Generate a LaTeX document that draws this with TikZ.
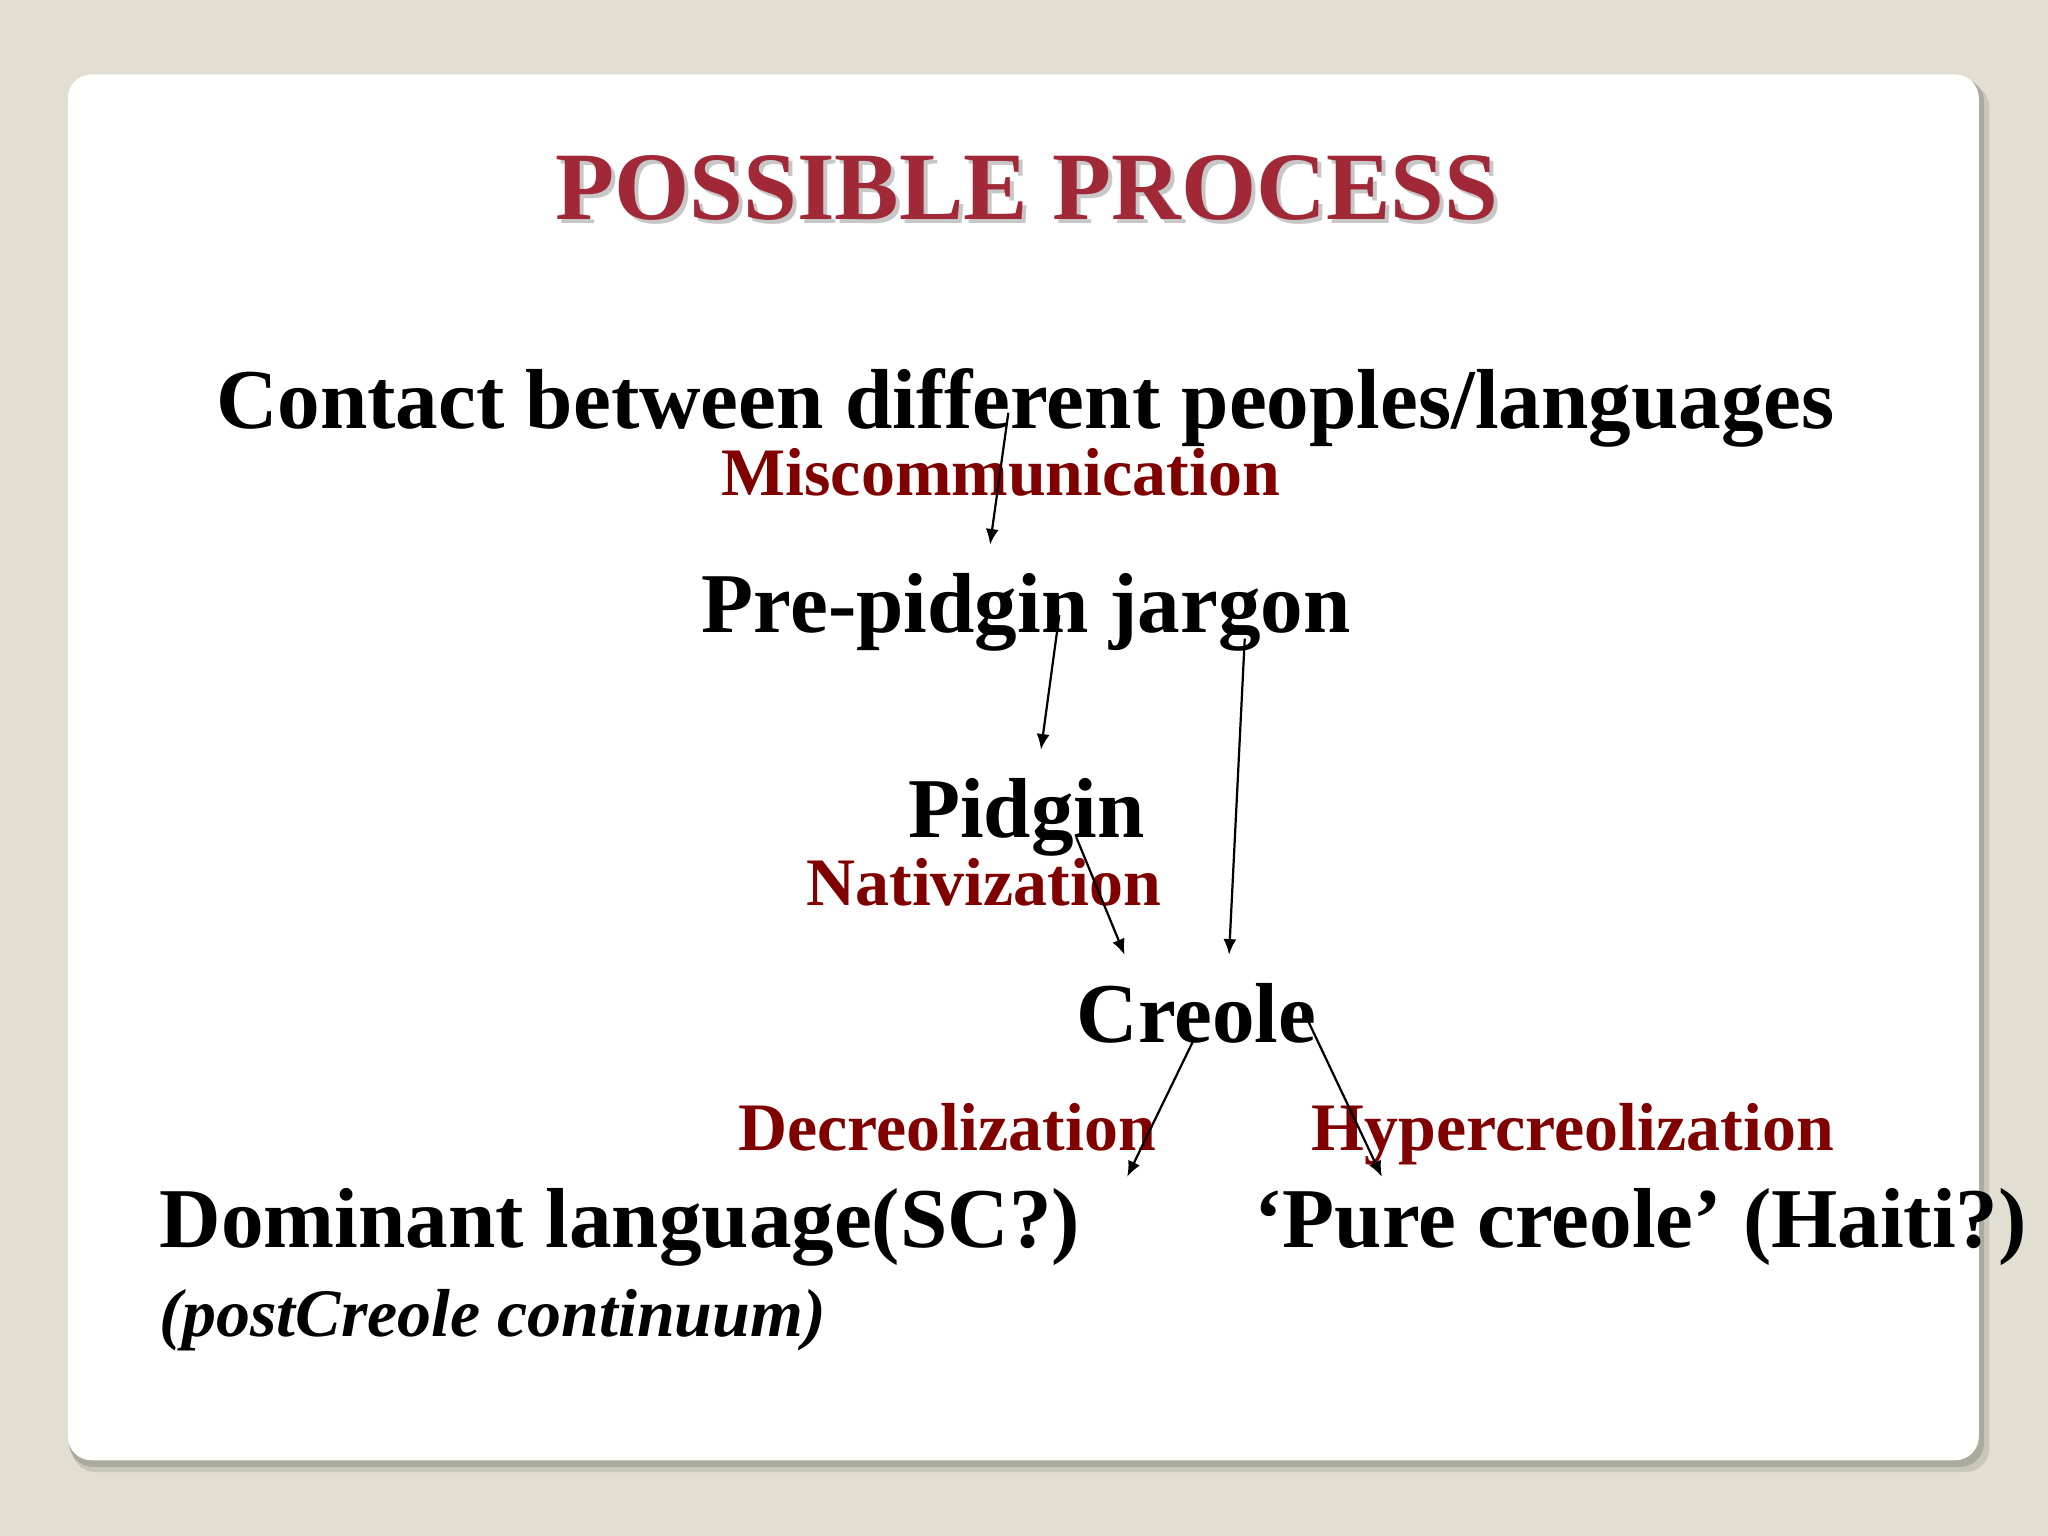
\documentclass[tikz,border=0pt]{standalone}
\usepackage{fontspec}
\setmainfont{Liberation Serif}
\usetikzlibrary{arrows.meta}
\definecolor{bgc}{RGB}{226,223,210}
\definecolor{shadowc}{RGB}{172,170,157}
\definecolor{titlec}{RGB}{160,40,55}
\definecolor{labc}{RGB}{128,0,0}
\begin{document}
\begin{tikzpicture}[x=0.5pt,y=-0.5pt,
  term/.style={inner sep=0pt, anchor=base west, font=\fontsize{32.6}{38}\selectfont\bfseries},
  proc/.style={inner sep=0pt, anchor=base west, text=labc, font=\fontsize{26}{31}\selectfont\bfseries},
  titlestyle/.style={inner sep=0pt, anchor=base west, font=\fontsize{37}{44}\selectfont\bfseries},
  link/.style={draw=black, line width=0.85pt, -{Latex[length=6pt,width=5pt]}}]
% background and card
\fill[bgc] (0,0) rectangle (1568,1176);
\useasboundingbox (0,0) rectangle (1568,1176);
\fill[shadowc!45!bgc, rounded corners=9pt] (55,64) rectangle (1523,1127);
\fill[shadowc, rounded corners=9pt] (53,60) rectangle (1519,1123);
\fill[white, rounded corners=9pt] (52,57) rectangle (1515,1118);
% title
\node[titlestyle, text=black!22] (titleshadow) at (428,171) {POSSIBLE PROCESS};
\node[titlestyle, text=titlec] (title) at (425,168) {POSSIBLE PROCESS};
% terms
\node[term] (contact) at (165,328) {Contact between different peoples/languages};
\node[proc] (miscom) at (552,379) {Miscommunication};
\node[term] (prepidgin) at (537,484) {Pre-pidgin jargon};
\node[term] (pidgin) at (695,641) {Pidgin};
\node[proc] (nativ) at (617,693) {Nativization};
\node[term] (creole) at (824,798) {Creole};
\node[proc] (decreol) at (565,881) {Decreolization};
\node[proc] (hyper) at (1004,881) {Hypercreolization};
\node[term] (dominant) at (122,955) {Dominant language(SC?)};
\node[term] (pure) at (960,955) {‘Pure creole’ (Haiti?)};
\node[inner sep=0pt, anchor=base west, font=\fontsize{26}{31}\selectfont\bfseries\itshape] (post) at (122,1023) {(postCreole continuum)};
% connector ends
\coordinate (c1s) at (772,316);
\coordinate (c1e) at (758,417);
\coordinate (c2s) at (811,471);
\coordinate (c2e) at (797,574);
\coordinate (c3s) at (953,489);
\coordinate (c3e) at (941,731);
\coordinate (c4s) at (824,641);
\coordinate (c4e) at (861,731);
\coordinate (c5s) at (914,796);
\coordinate (c5e) at (863,901);
\coordinate (c6s) at (996,770);
\coordinate (c6e) at (1058,901);
\draw[link] (c1s) -- (c1e);
\draw[link] (c2s) -- (c2e);
\draw[link] (c3s) -- (c3e);
\draw[link] (c4s) -- (c4e);
\draw[link] (c5s) -- (c5e);
\draw[link] (c6s) -- (c6e);
\end{tikzpicture}
\end{document}
